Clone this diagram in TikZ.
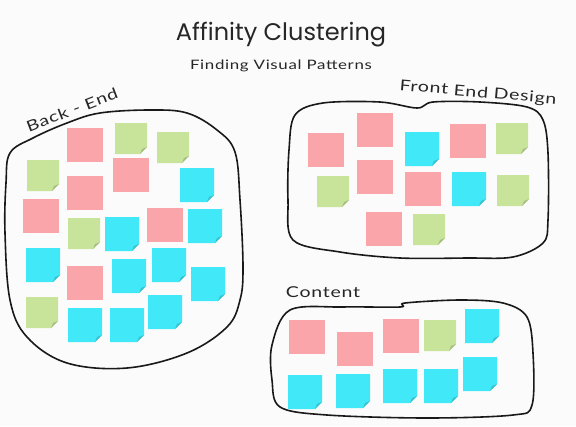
\documentclass[tikz,border=0pt]{standalone}
\usepackage{fontspec}
\setmainfont{Lato}
\newfontfamily\titlefont{Poppins}
\newfontfamily\handfont[FakeStretch=1.3,LetterSpace=5]{Lato}
\usetikzlibrary{positioning}
\definecolor{paper}{RGB}{251,251,251}
\definecolor{notepink}{RGB}{249,165,170}
\definecolor{notegreen}{RGB}{200,228,154}
\definecolor{notecyan}{RGB}{64,232,248}
\tikzset{
  every picture/.style={x=1pt,y=-1pt},
  blob/.style={draw=black!90,line width=1.6pt,line join=round},
  hand/.style={font=\handfont\fontsize{15}{17}\selectfont,text=black!85,inner sep=0pt},
  curl/.style={fill=#1!70!black,opacity=0.55},
}
\begin{document}
\begin{tikzpicture}
  \useasboundingbox[fill=paper] (0,0) rectangle (576,426);
  % title
  \node[font=\titlefont\fontsize{24}{28}\selectfont,text=black!85] (title) at (281,35) {Affinity Clustering};
  \node[hand,font=\handfont\fontsize{13}{15}\selectfont] (subtitle) at (281,66) {Finding Visual Patterns};

  % cluster outlines
  \draw[blob] plot[smooth cycle,tension=0.6] coordinates {
    (10,153) (33,138) (67,123) (100,113) (150,110) (187,113) (217,130) (235,152)
    (240,200) (243,267) (240,300) (227,327) (187,353) (127,368) (67,363)
    (27,337) (10,300) (5,233) (6,183)};
  \draw[blob] plot[smooth cycle,tension=0.55] coordinates {
    (295,115) (323,103) (380,102) (417,108) (433,102) (480,102) (527,107)
    (543,120) (548,153) (548,220) (543,243) (513,257) (467,258) (400,258)
    (340,252) (293,240) (288,200) (289,150)};
  \draw[blob] plot[smooth cycle,tension=0.55] coordinates {
    (290,310) (343,307) (400,307) (405,303) (460,300) (503,303) (527,317)
    (533,353) (532,405) (513,415) (427,418) (327,415) (280,407) (272,380)
    (272,345)};

  % cluster labels
  \node[hand,rotate=21] (backlbl) at (72,110) {Back - End};
  \node[hand,rotate=-5] (frontlbl) at (478,93) {Front End Design};
  \node[hand] (contentlbl) at (323,292) {Content};

  % plain notes
  \foreach \x/\y in {67/128,67/176,113/158,23/199,147/208,67/266,
                     308/133,357/113,450/124,357/160,405/172,366/212,
                     289/320,337/332,383/319}
    \fill[notepink] (\x,\y) rectangle ++(36,34);

  % curled notes
  \foreach \x/\y in {115/123,157/132,27/160,68/218,26/297,
                     496/123,317/176,497/175,413/214,424/320}{
    \fill[notegreen] (\x,\y) -- ++(32,0) -- ++(0,24) -- ++(-7,7) -- ++(-25,0) -- cycle;
    \fill[curl=notegreen] (\x+25,\y+31) -- (\x+32,\y+24) -- (\x+27,\y+26) -- cycle;
  }
  \foreach \x/\y in {180/168,105/217,188/209,26/248,112/259,152/248,191/267,68/308,110/308,148/295,
                     405/132,452/172,
                     465/309,288/375,336/374,383/369,424/369,463/357}{
    \fill[notecyan] (\x,\y) -- ++(34,0) -- ++(0,27) -- ++(-7,7) -- ++(-27,0) -- cycle;
    \fill[curl=notecyan] (\x+27,\y+34) -- (\x+34,\y+27) -- (\x+29,\y+29) -- cycle;
  }
\end{tikzpicture}
\end{document}
